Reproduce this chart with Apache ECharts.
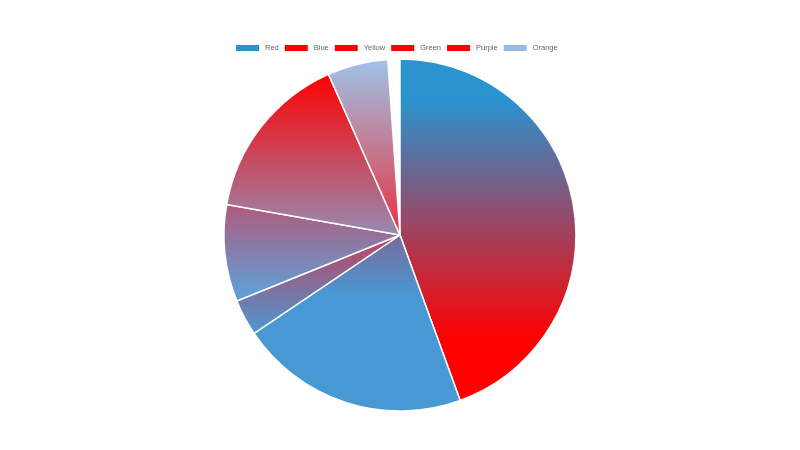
<!DOCTYPE html>
<html>
<head>
<meta charset="utf-8">
<script src="https://cdn.jsdelivr.net/npm/echarts@6/dist/echarts.min.js"></script>
<style>
html,body{margin:0;padding:0;background:#fff;}
#chart{width:800px;height:450px;}
</style>
</head>
<body>
<div id="chart"></div>
<script>
var categories = ['Red', 'Blue', 'Yellow', 'Green', 'Purple', 'Orange'];
var values = [160, 76, 12, 32, 56, 20];
var gapValue = 4;
var legendColors = ['#2b93d0', '#ff0000', '#ff0000', '#ff0000', '#ff0000', '#95bde6'];
var topColors = ['#2b93d0', '#7a6a9a', '#c0405e', '#b05a7c', '#ff0000', '#9ec4e8'];
var bottomColors = ['#ff0000', '#4899d3', '#4a9ad6', '#5aa5de', '#968cb2', '#e8303e'];

function grad(top, bottom, holdTop, holdBottom) {
  var stops = [{offset: 0, color: top}];
  if (holdTop) stops.push({offset: holdTop, color: top});
  if (holdBottom) stops.push({offset: holdBottom, color: bottom});
  stops.push({offset: 1, color: bottom});
  return {type: 'linear', x: 0, y: 0, x2: 0, y2: 1, colorStops: stops};
}

var seriesData = categories.map(function (name, i) {
  var ht = null, hb = null;
  if (name === 'Blue') hb = 0.35;
  if (name === 'Red') { ht = 0.12; hb = 0.82; }
  return {
    name: name,
    value: values[i],
    itemStyle: {color: grad(topColors[i], bottomColors[i], ht, hb)}
  };
});
seriesData.push({
  name: '',
  value: gapValue,
  itemStyle: {color: 'rgba(0,0,0,0)', borderWidth: 0},
  emphasis: {disabled: true}
});

var chart = echarts.init(document.getElementById('chart'));
chart.setOption({
  animation: false,
  legend: {
    top: 38,
    left: 229,
    itemWidth: 25,
    itemHeight: 8,
    itemGap: 4,
    icon: 'rect',
    textStyle: {fontSize: 7.5, color: '#666', fontFamily: 'Liberation Sans, Arial, sans-serif'},
    data: categories.map(function (n, i) {
      return {name: n, itemStyle: {color: legendColors[i]}};
    })
  },
  series: [{
    type: 'pie',
    center: [400, 235],
    radius: [0, 176],
    startAngle: 90,
    clockwise: true,
    label: {show: false},
    labelLine: {show: false},
    itemStyle: {borderColor: '#fff', borderWidth: 1.5},
    data: seriesData
  }]
});
</script>
</body>
</html>
